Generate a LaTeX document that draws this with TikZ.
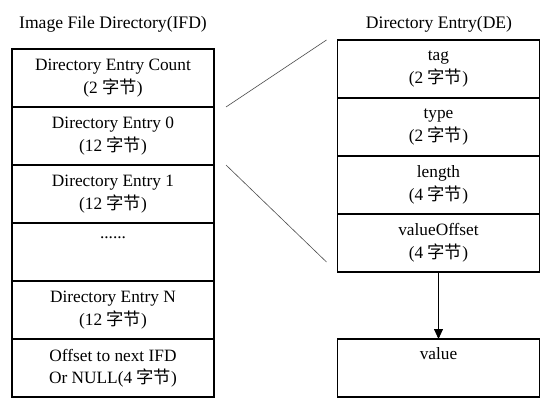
\documentclass[tikz,border=0pt]{standalone}
\usepackage{fontspec}
\setmainfont{Liberation Serif}
\newfontfamily\cjk{Noto Sans CJK SC}
\usetikzlibrary{positioning,arrows.meta}
\newcommand{\zj}{{\cjk 字节}}

\begin{document}
\begin{tikzpicture}[x=1pt, y=-1pt,
    cell/.style={draw, line width=1.2pt, rectangle, minimum width=202pt, minimum height=58pt,
        inner sep=0pt, outer sep=0pt, align=center, font=\fontsize{17.3}{22.5}\selectfont},
    title/.style={anchor=base, font=\fontsize{17.6}{20}\selectfont},
    link/.style={draw=black!70, line width=0.6pt}]
    \useasboundingbox (0,0) rectangle (557,406);

    % Draw the IFD cells
    \node[title] (ifdtitle) at (113,29) {Image File Directory(IFD)};
    \node[cell] (ifd0) at (113,78) {Directory Entry Count\\(2 \zj)};
    \node[cell, below=0pt of ifd0] (ifd1) {Directory Entry 0\\(12 \zj)};
    \node[cell, below=0pt of ifd1] (ifd2) {Directory Entry 1\\(12 \zj)};
    \node[cell, below=0pt of ifd2] (ifd3) {......\\\strut};
    \node[cell, below=0pt of ifd3] (ifd4) {Directory Entry N\\(12 \zj)};
    \node[cell, below=0pt of ifd4] (ifd5) {Offset to next IFD\\Or NULL(4 \zj)};

    % Draw the DE cells
    \node[title] (detitle) at (439,29) {Directory Entry(DE)};
    \node[cell] (de0) at (438.5,69) {tag\\(2 \zj)};
    \node[cell, below=0pt of de0] (de1) {type\\(2 \zj)};
    \node[cell, below=0pt of de1] (de2) {length\\(4 \zj)};
    \node[cell, below=0pt of de2] (de3) {valueOffset\\(4 \zj)};
    \node[cell] (value) at (438.5,368) {value\\\strut};

    % Draw the links
    \draw[link] ([xshift=12pt]ifd1.north east) -- ([xshift=-11pt]de0.north west);
    \draw[link] ([xshift=12pt]ifd2.north east) -- ([xshift=-11pt,yshift=10pt]de3.south west);
    \draw[-{Triangle[width=9pt,length=10pt]}, line width=0.8pt] (de3.south) -- (value.north);

\end{tikzpicture}
\end{document}
